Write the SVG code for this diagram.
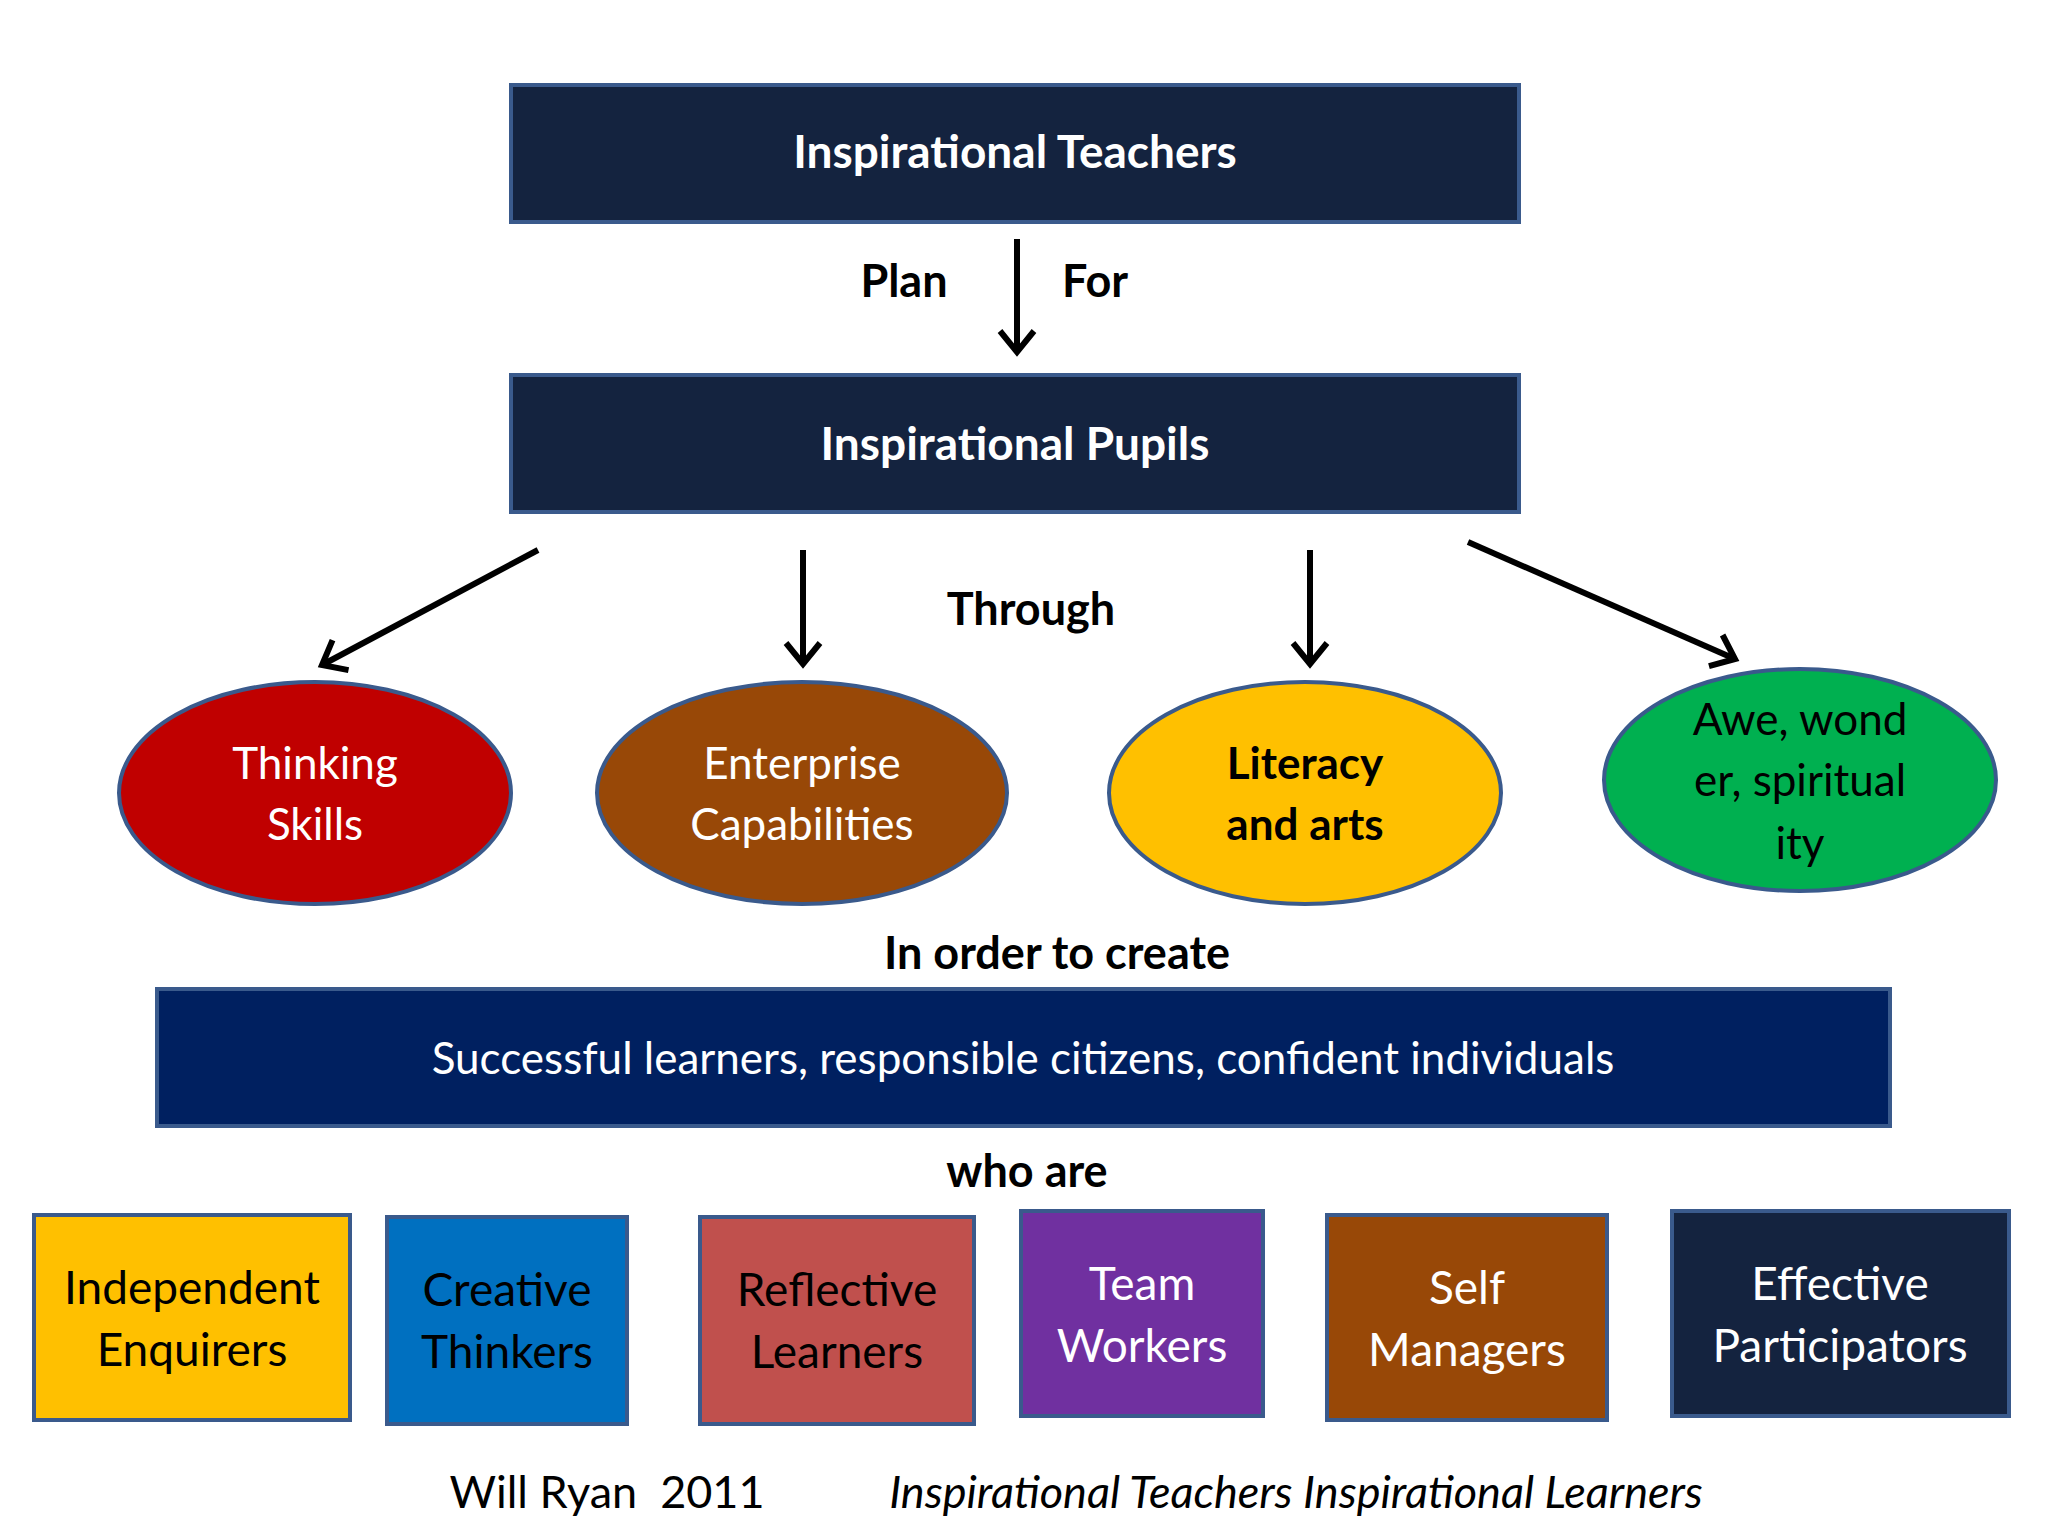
<svg xmlns="http://www.w3.org/2000/svg" width="2048" height="1536" viewBox="0 0 2048 1536">
<style>
text{font-family:Lato,"Liberation Sans",sans-serif;text-anchor:middle}
.b{font-weight:bold}
.w{fill:#fff}
.lbl{font-size:45px;font-weight:bold;fill:#000}
.hdr{fill:#14233f;stroke:#3a5a8c;stroke-width:4}
.ell{stroke:#3a5a8c;stroke-width:4}
.box{stroke:#3a5a8c;stroke-width:4}
.c{stroke:#000;stroke-width:6;fill:none;marker-end:url(#ah)}
</style>
<defs><marker id="ah" markerWidth="10" markerHeight="10" refX="7" refY="5" orient="auto" markerUnits="userSpaceOnUse" viewBox="0 0 10 10" overflow="visible"><path d="M-14,-12 L7,5 L-14,22" transform="translate(0,0) scale(1)" fill="none" stroke="#000" stroke-width="6"/></marker></defs>
<rect width="2048" height="1536" fill="#fff"/>
<g id="teachers"><rect class="hdr" x="511" y="85" width="1008" height="137"/><text class="b w" x="1015" y="168" font-size="46">Inspirational Teachers</text></g>
<g id="pupils"><rect class="hdr" x="511" y="375" width="1008" height="137"/><text class="b w" x="1015" y="460" font-size="46">Inspirational Pupils</text></g>
<g id="connectors">
<line class="c" x1="1017" y1="239" x2="1017" y2="352"/>
<line class="c" x1="538" y1="550" x2="322" y2="665"/>
<line class="c" x1="803" y1="550" x2="803" y2="664"/>
<line class="c" x1="1310" y1="550" x2="1310" y2="664"/>
<line class="c" x1="1468" y1="542" x2="1735" y2="659"/>
</g>
<g id="labels">
<text class="lbl" x="904" y="297">Plan</text>
<text class="lbl" x="1095" y="297">For</text>
<text class="lbl" x="1031" y="625">Through</text>
<text class="lbl" x="1057" y="969">In order to create</text>
<text class="lbl" x="1027" y="1187">who are</text>
</g>
<g id="thinking"><ellipse class="ell" cx="315" cy="793" rx="196" ry="111" fill="#c00000"/><text class="w" font-size="44" x="315" y="779">Thinking</text><text class="w" font-size="44" x="315" y="840">Skills</text></g>
<g id="enterprise"><ellipse class="ell" cx="802" cy="793" rx="205" ry="111" fill="#984807"/><text class="w" font-size="44" x="802" y="779">Enterprise</text><text class="w" font-size="44" x="802" y="840">Capabilities</text></g>
<g id="literacy"><ellipse class="ell" cx="1305" cy="793" rx="196" ry="111" fill="#ffc000"/><text class="b" font-size="44" x="1305" y="779">Literacy</text><text class="b" font-size="44" x="1305" y="840">and arts</text></g>
<g id="awe"><ellipse class="ell" cx="1800" cy="780" rx="196" ry="111" fill="#00b050"/><text font-size="44" x="1800" y="735">Awe, wond</text><text font-size="44" x="1800" y="796">er, spiritual</text><text font-size="44" x="1800" y="859">ity</text></g>
<g id="outcomes"><rect class="box" x="157" y="989" width="1733" height="137" fill="#002060"/><text class="w" font-size="44" x="1023" y="1074">Successful learners, responsible citizens, confident individuals</text></g>
<g id="independent"><rect class="box" x="34" y="1215" width="316" height="205" fill="#ffc000"/><text font-size="46" x="192" y="1304">Independent</text><text font-size="46" x="192" y="1366">Enquirers</text></g>
<g id="creative"><rect class="box" x="387" y="1217" width="240" height="207" fill="#0070c0"/><text font-size="46" x="507" y="1306">Creative</text><text font-size="46" x="507" y="1368">Thinkers</text></g>
<g id="reflective"><rect class="box" x="700" y="1217" width="274" height="207" fill="#c0504d"/><text font-size="46" x="837" y="1306">Reflective</text><text font-size="46" x="837" y="1368">Learners</text></g>
<g id="team"><rect class="box" x="1021" y="1211" width="242" height="205" fill="#7030a0"/><text class="w" font-size="46" x="1142" y="1300">Team</text><text class="w" font-size="46" x="1142" y="1362">Workers</text></g>
<g id="self"><rect class="box" x="1327" y="1215" width="280" height="205" fill="#984807"/><text class="w" font-size="46" x="1467" y="1304">Self</text><text class="w" font-size="46" x="1467" y="1366">Managers</text></g>
<g id="effective"><rect class="box" x="1672" y="1211" width="337" height="205" fill="#14233f"/><text class="w" font-size="46" x="1840" y="1300">Effective</text><text class="w" font-size="46" x="1840" y="1362">Participators</text></g>
<g id="footer"><text font-size="45" x="607" y="1508" xml:space="preserve">Will Ryan  2011</text><text font-size="45" font-style="italic" x="1296" y="1508">Inspirational Teachers Inspirational Learners</text></g>
</svg>
